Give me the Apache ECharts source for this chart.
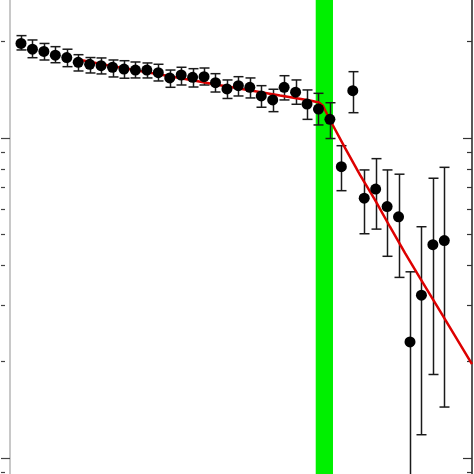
<!DOCTYPE html>
<html>
<head>
<meta charset="utf-8">
<script src="https://cdn.jsdelivr.net/npm/echarts@6/dist/echarts.min.js"></script>
<style>html,body{margin:0;padding:0;background:#fff}#c{width:474px;height:474px}</style>
</head>
<body>
<div id="c"></div>
<script>
// ---- data ----
const binX = [1,2,3,4,5,6,7,8,9,10,11,12,13,14,15,16,17,18,19,20,21,22,23,24,25,26,27,28,29,30,31,32,33,34,35,36,37,38];
const fluxVal = [19.7,18.9,18.6,18.1,17.8,17.2,16.96,16.79,16.6,16.39,16.27,16.27,15.97,15.37,15.70,15.44,15.51,14.86,14.20,14.54,14.37,13.50,13.12,14.37,13.87,12.74,12.29,11.41,8.12,14.03,6.47,6.91,6.09,5.66,2.30,3.22,4.63,4.77];
const fluxLow = [18.8,17.78,17.49,17.15,16.67,16.16,15.93,15.82,15.48,15.34,15.37,15.37,15.04,14.37,14.61,14.40,14.61,13.89,13.26,13.50,13.31,12.45,12.06,13.12,12.72,11.41,10.96,9.94,6.83,11.97,5.01,5.18,4.26,3.66,0.6,1.18,1.82,1.44];
const fluxHigh = [20.84,20.2,19.7,19.25,18.9,18.17,17.8,17.75,17.49,17.40,17.24,17.12,16.96,16.27,16.6,16.43,16.51,15.85,15.15,15.51,15.37,14.54,14.17,15.62,15.15,14.10,13.76,12.86,9.44,16.08,7.93,8.60,7.93,7.69,3.81,5.27,7.47,8.08];
const modelX = [5.98,8.78,13.15,18.40,23.64,26.26,27.05,27.40,28.01,29.32,30.63,31.94,33.26,34.57,35.88,37.63,40.42];
const modelY = [17.55,16.79,15.76,14.58,13.55,13.07,12.88,12.56,11.36,9.29,7.65,6.39,5.26,4.36,3.64,2.87,1.96];
const bandX = [26.76, 28.27];
const majorTicks = [1, 10];
const minorTicks = [0.9, 2, 3, 4, 5, 6, 7, 8, 9, 20];
const xRange = [-0.748, 40.42];
const yRange = [0.8895, 26.93];

const chart = echarts.init(document.getElementById('c'), null, {renderer: 'canvas'});

const errData = binX.map((x, i) => [x, fluxLow[i], fluxHigh[i]]);
const ptData = binX.map((x, i) => [x, fluxVal[i]]);
const lineData = modelX.map((x, i) => [x, modelY[i]]);
const tickData = majorTicks.map(v => [xRange[0], v, 1]).concat(minorTicks.map(v => [xRange[0], v, 0]));

chart.setOption({
  animation: false,
  grid: {left: 1, right: 2, top: 0, bottom: 0, containLabel: false},
  xAxis: {type: 'value', min: xRange[0], max: xRange[1], show: false},
  yAxis: [
    {type: 'log', min: yRange[0], max: yRange[1], position: 'left',
     axisLine: {show: true, lineStyle: {color: '#c8c8c8', width: 2}},
     axisTick: {show: false}, axisLabel: {show: false}, splitLine: {show: false}},
    {type: 'log', min: yRange[0], max: yRange[1], position: 'right',
     axisLine: {show: true, lineStyle: {color: '#222', width: 1.5}},
     axisTick: {show: false}, axisLabel: {show: false}, splitLine: {show: false}}
  ],
  series: [
    {
      type: 'line', data: [], z: 1,
      markArea: {silent: true, itemStyle: {color: '#00f000', opacity: 1},
        data: [[{xAxis: bandX[0]}, {xAxis: bandX[1]}]]}
    },
    {
      type: 'custom', z: 2, clip: true,
      data: tickData,
      renderItem: function (params, api) {
        const v = api.value(1);
        const major = api.value(2) === 1;
        const pl = api.coord([xRange[0], v]);
        const pr = api.coord([xRange[1], v]);
        const y = Math.round(pl[1]) + 0.5;
        return {type: 'group', children: [
          {type: 'line', shape: {x1: 0, y1: y, x2: major ? 10 : 5, y2: y},
           style: {stroke: '#444', lineWidth: 1.2}},
          {type: 'line', shape: {x1: pr[0], y1: y, x2: pr[0] - (major ? 9 : 5), y2: y},
           style: {stroke: '#333', lineWidth: 1.2}}
        ]};
      }
    },
    {
      type: 'custom', z: 3,
      data: errData,
      renderItem: function (params, api) {
        const x = api.value(0);
        const lo = api.coord([x, api.value(1)]);
        const hi = api.coord([x, api.value(2)]);
        const cx = Math.round(lo[0]) + 0.5;
        const hw = 5;
        const st = {stroke: '#1a1a1a', lineWidth: 1.5};
        return {type: 'group', children: [
          {type: 'line', shape: {x1: cx, y1: lo[1], x2: cx, y2: hi[1]}, style: st},
          {type: 'line', shape: {x1: cx - hw, y1: lo[1], x2: cx + hw, y2: lo[1]}, style: st},
          {type: 'line', shape: {x1: cx - hw, y1: hi[1], x2: cx + hw, y2: hi[1]}, style: st}
        ]};
      }
    },
    {
      type: 'line', z: 4, data: lineData, showSymbol: false, smooth: false,
      lineStyle: {color: '#dd0000', width: 2.5}
    },
    {
      type: 'scatter', z: 5, data: ptData, symbol: 'circle', symbolSize: 11,
      itemStyle: {color: '#000', opacity: 1}
    }
  ]
});
</script>
</body>
</html>
